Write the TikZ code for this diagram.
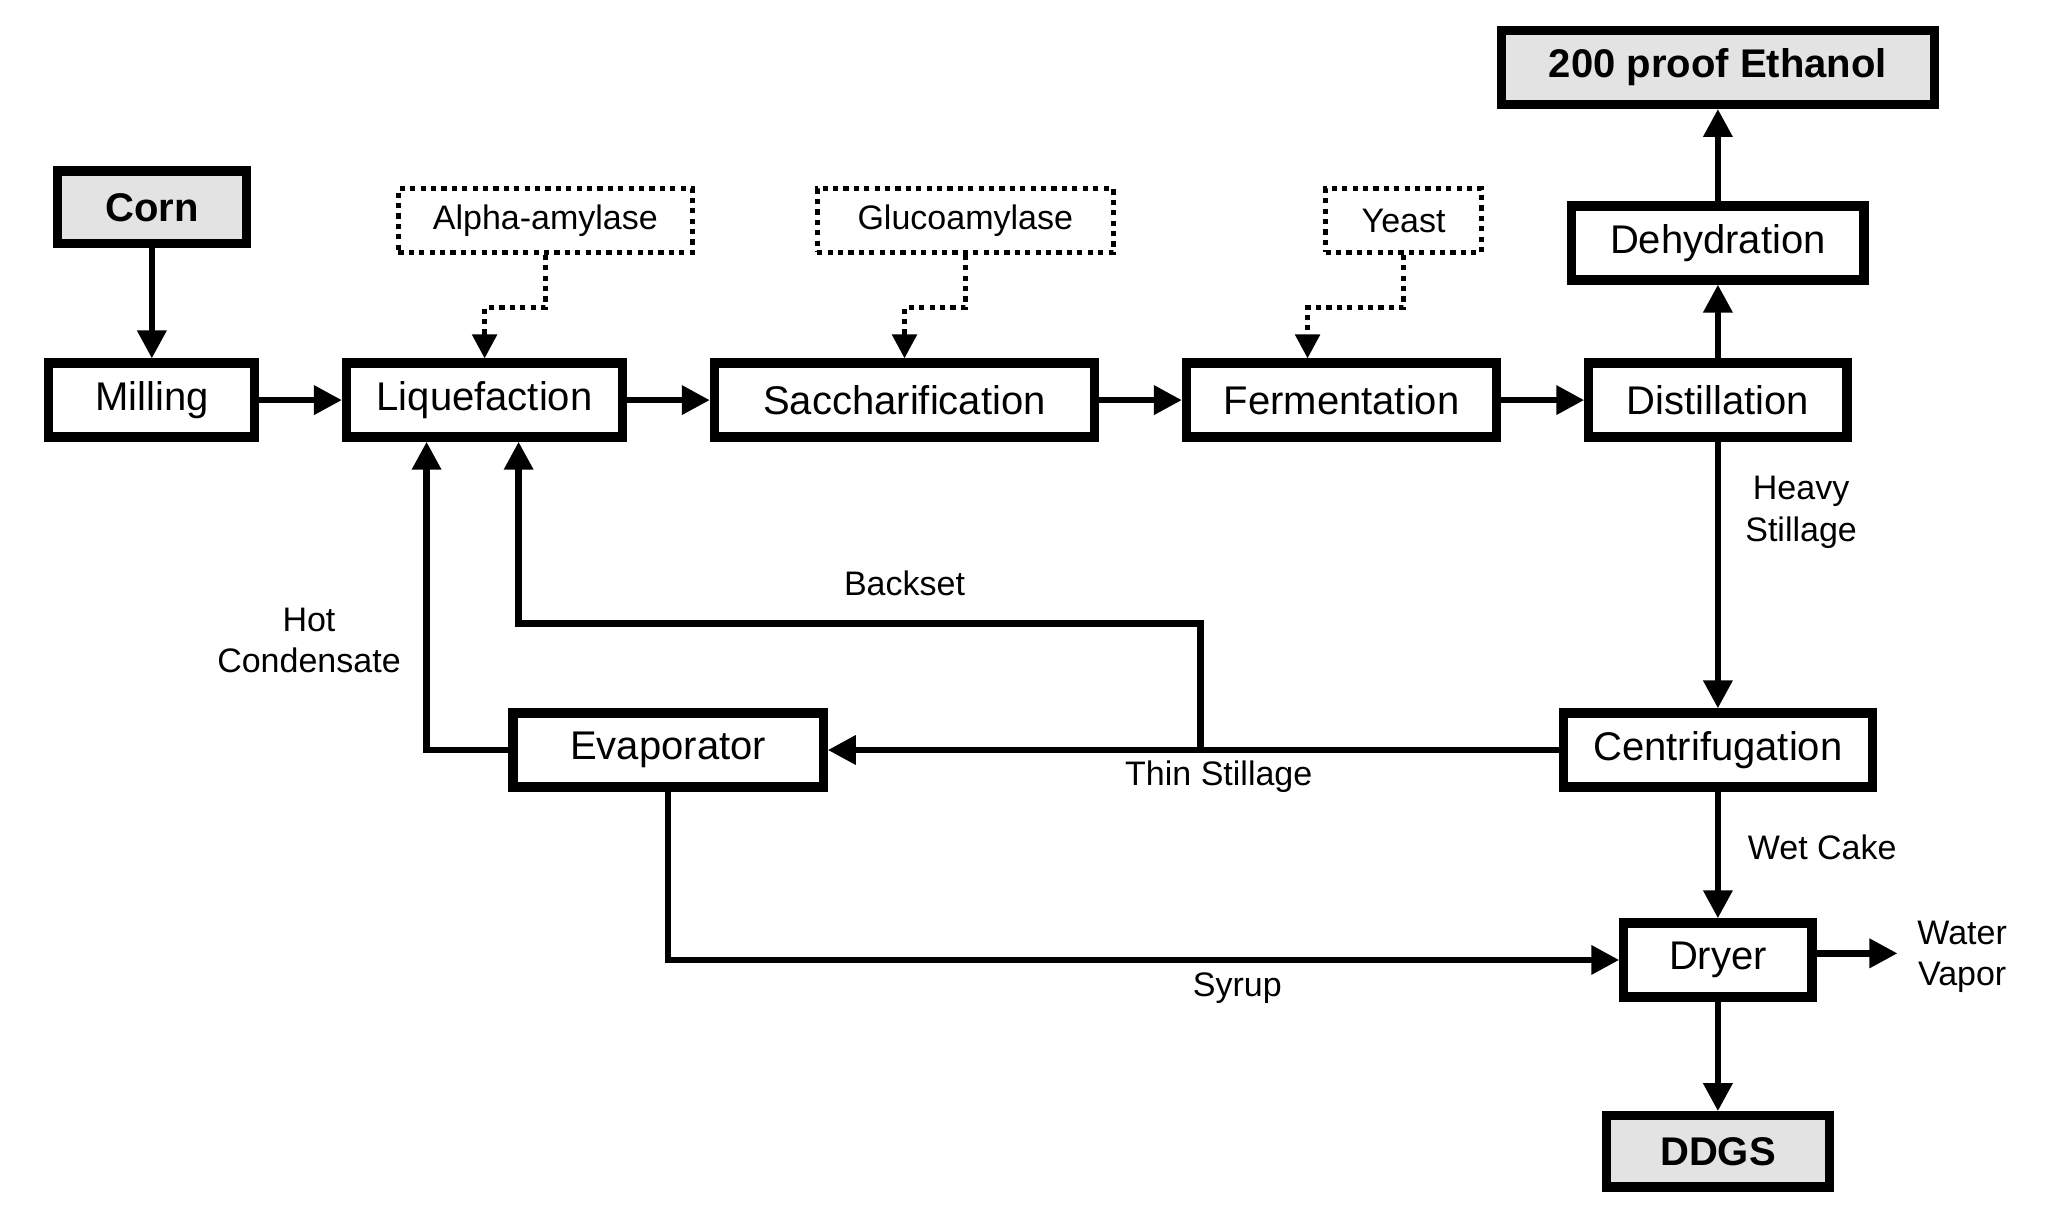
\documentclass[tikz,border=0pt]{standalone}
\usepackage{fontspec}
\setmainfont{Liberation Sans}
\usetikzlibrary{arrows.meta}
\tikzset{every picture/.style={line width=0.75pt}}
\tikzset{
  stage/.style={draw, line width=4.6pt, fill=white, minimum height=37pt, inner sep=0pt, font=\fontsize{20}{24}\selectfont},
  product/.style={stage, fill=gray!22, font=\fontsize{20}{24}\selectfont\bfseries},
  agent/.style={draw, line width=2.6pt, dash pattern={on 2.6pt off 2.6pt}, minimum height=31.7pt, inner sep=0pt, font=\fontsize{17}{20}\selectfont},
  flow/.style={line width=3.3pt, -{Triangle[length=14pt,width=14pt]}},
  feed/.style={line width=2.6pt, dash pattern={on 2.6pt off 2.6pt}, -{Triangle[length=12pt,width=12pt]}},
  tag/.style={align=center, inner sep=0pt, font=\fontsize{17}{20.5}\selectfont}
}
\begin{document}
\begin{tikzpicture}[x=0.66pt,y=-0.66pt]
\useasboundingbox (0,0) rectangle (1551,912);

% Process steps
\node [product, minimum width=94.4pt, minimum height=36.3pt] (corn) at (115,157) {Corn};
\node [stage, minimum width=103pt] (milling) at (115,303) {Milling};
\node [stage, minimum width=138pt] (liquefaction) at (367,303) {Liquefaction};
\node [stage, minimum width=190pt] (saccharification) at (685,303) {Saccharification};
\node [stage, minimum width=155pt] (fermentation) at (1016,303) {Fermentation};
\node [stage, minimum width=129pt] (distillation) at (1301,303) {Distillation};
\node [stage, minimum width=146pt] (dehydration) at (1301,184) {Dehydration};
\node [product, minimum width=216.5pt] (ethanol) at (1301,51) {200 proof Ethanol};
\node [stage, minimum width=154.5pt] (centrifugation) at (1301,568) {Centrifugation};
\node [stage, minimum width=155pt] (evaporator) at (506,568) {Evaporator};
\node [stage, minimum width=94pt] (dryer) at (1301,727) {Dryer};
\node [product, minimum width=111.5pt, minimum height=35.6pt] (ddgs) at (1301,872) {DDGS};

% Added agents
\node [agent, minimum width=147pt] (alpha) at (413,167) {Alpha-amylase};
\node [agent, minimum width=148pt] (gluco) at (731,167) {Glucoamylase};
\node [agent, minimum width=78pt] (yeast) at (1063,167) {Yeast};

% Loose ends
\coordinate (vapor) at (1437,722);
\coordinate (split) at (909,568);

% Main line
\draw [flow] (corn) -- (milling);
\draw [flow] (milling) -- (liquefaction);
\draw [flow] (liquefaction) -- (saccharification);
\draw [flow] (saccharification) -- (fermentation);
\draw [flow] (fermentation) -- (distillation);
\draw [flow] (distillation) -- (dehydration);
\draw [flow] (dehydration) -- (ethanol);
\draw [flow] (distillation) -- (centrifugation);
\draw [flow] (centrifugation) -- (dryer);
\draw [flow] (dryer) -- (ddgs);
\draw [flow] (dryer.east |- vapor) -- (vapor);
\draw [flow] (centrifugation) -- (evaporator);
\draw [flow] (split) -- ++(0,-96) -| ([xshift=17pt]liquefaction.south);
\draw [flow] (evaporator.west) -| ([xshift=-29pt]liquefaction.south);
\draw [flow] (evaporator.south) |- (dryer.west);

% Agent feeds
\draw [feed] (alpha.south) -- ++(0,40) -| (liquefaction.north);
\draw [feed] (gluco.south) -- ++(0,40) -| (saccharification.north);
\draw [feed] (yeast.south) -- ++(0,40) -| ([xshift=-17pt]fermentation.north);

% Text Node
\node [tag] (heavy) at (1364,388) {Heavy\\Stillage};
\node [tag] (wetcake) at (1380,642) {Wet Cake};
\node [tag] (thin) at (923,588) {Thin Stillage};
\node [tag] (backset) at (685,442) {Backset};
\node [tag] (hot) at (234,485) {Hot\\Condensate};
\node [tag] (syrup) at (937,748) {Syrup};
\node [tag] (water) at (1486,725) {Water\\Vapor};
\end{tikzpicture}
\end{document}
